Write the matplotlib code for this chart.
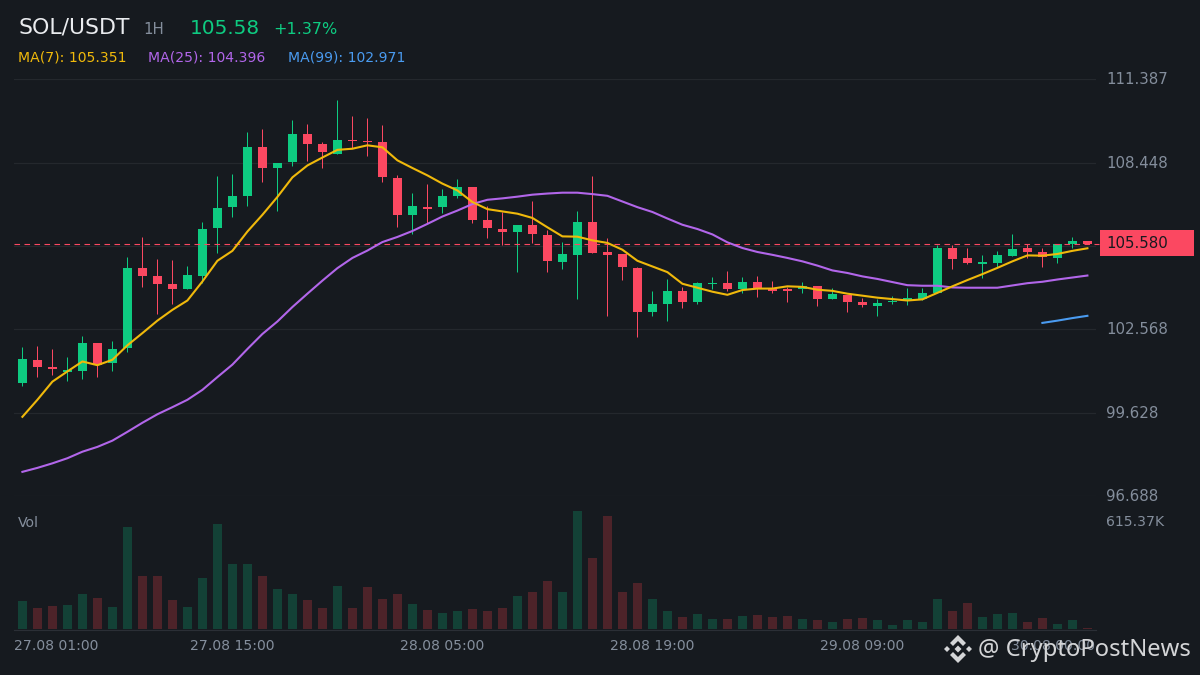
import matplotlib
matplotlib.use("Agg")
import matplotlib.pyplot as plt
from matplotlib.patches import Rectangle, Polygon
from matplotlib.transforms import ScaledTranslation

opens = [100.67,101.50,101.25,101.08,101.12,102.10,101.37,101.90,104.74,104.46,104.18,104.01,104.47,106.13,106.87,107.26,
         109.01,108.25,108.46,109.47,109.12,108.77,109.26,109.22,109.19,107.92,106.59,106.90,106.87,107.26,107.60,106.44,
         106.12,105.99,106.26,105.91,104.93,105.21,106.37,105.31,105.24,104.74,103.17,103.45,103.93,103.52,104.16,104.22,
         103.98,104.25,104.00,103.98,103.99,104.11,103.66,103.79,103.55,103.38,103.52,103.56,103.64,103.86,105.45,105.10,
         104.89,104.92,105.17,105.45,105.31,105.10,105.59,105.70]
closes = [101.54,101.23,101.16,101.15,102.10,101.31,101.89,104.74,104.47,104.16,104.01,104.50,106.12,106.86,107.28,109.01,
          108.25,108.45,109.47,109.09,108.81,109.26,109.20,109.16,107.93,106.59,106.93,106.82,107.28,107.60,106.41,106.13,
          105.99,106.26,105.92,104.97,105.24,106.37,105.28,105.21,104.76,103.20,103.48,103.93,103.52,104.22,104.22,103.98,
          104.25,104.00,103.94,103.91,104.11,103.66,103.83,103.52,103.42,103.51,103.58,103.69,103.86,105.45,105.07,104.92,
          104.96,105.20,105.41,105.31,105.13,105.59,105.70,105.58]
highs = [101.96,102.00,101.89,101.61,102.35,102.10,102.17,105.13,105.84,105.06,105.03,104.82,106.37,107.99,108.06,109.54,
         109.64,108.45,109.96,109.82,109.19,110.67,110.10,110.03,109.79,108.02,107.39,107.71,107.53,107.88,107.60,106.93,
         106.72,106.26,107.11,106.08,105.66,106.75,107.99,105.80,105.24,104.78,103.93,104.36,104.07,104.25,104.43,104.64,
         104.43,104.46,104.29,104.07,104.25,104.11,104.04,103.79,103.69,103.66,103.76,104.04,104.04,105.56,105.56,105.45,
         105.20,105.34,105.94,105.59,105.45,105.59,105.84,105.70]
lows = [100.56,100.91,100.95,100.74,100.81,100.91,101.09,101.79,104.05,103.13,103.45,103.98,104.19,105.25,106.55,106.91,
        107.75,106.73,108.32,108.49,108.25,108.77,108.95,108.70,107.75,106.19,105.92,106.32,106.69,107.22,106.31,105.81,
        105.56,104.58,105.60,104.61,104.69,103.66,105.25,103.06,104.33,102.32,103.06,102.85,103.31,103.45,104.00,103.91,
        103.84,103.70,103.87,103.52,103.87,103.38,103.63,103.17,103.35,103.06,103.48,103.42,103.59,103.86,104.69,104.89,
        104.40,104.76,105.17,105.10,104.78,104.92,105.45,105.58]
volumes = [146,109.5,120,125,182.5,162,115,532,276,276,151,115,266,547.5,339,339,276,208.5,182.5,151,109.5,224,109.5,219,
           156,182.5,130,99,83,94,104,94,109.5,172,193,250,193,615.37,370,589,193,240,156,94,63,78,52,52,
           68,73,63,68,52,47,36.5,52,57,47,21,47,36.5,156,94,136,63,78,83,36.5,57,26,47,5]
ma7 = [99.49,100.09,100.73,101.09,101.44,101.31,101.50,102.01,102.44,102.88,103.26,103.59,104.26,104.99,105.34,106.02,
       106.61,107.24,107.93,108.35,108.63,108.90,108.94,109.06,108.99,108.53,108.26,108.00,107.71,107.47,107.06,106.81,
       106.73,106.65,106.50,106.17,105.85,105.84,105.71,105.62,105.38,104.99,104.79,104.59,104.18,104.04,103.90,103.79,
       103.96,104.01,104.01,104.09,104.07,103.97,103.93,103.83,103.76,103.69,103.64,103.59,103.63,103.86,104.09,104.31,
       104.52,104.74,104.97,105.18,105.17,105.23,105.34,105.43]
ma25 = [97.55,97.69,97.85,98.03,98.26,98.43,98.65,98.96,99.28,99.58,99.83,100.09,100.44,100.89,101.33,101.88,
        102.41,102.85,103.36,103.83,104.29,104.73,105.09,105.35,105.65,105.83,106.04,106.29,106.55,106.76,106.99,107.14,
        107.19,107.25,107.32,107.36,107.39,107.39,107.34,107.28,107.08,106.88,106.71,106.48,106.26,106.11,105.92,105.64,
        105.44,105.30,105.20,105.09,104.97,104.82,104.65,104.56,104.44,104.35,104.24,104.13,104.11,104.11,104.05,104.04,
        104.04,104.04,104.12,104.20,104.25,104.33,104.40,104.47]
ma99_start = 68
ma99 = [102.80,102.88,102.97,103.05]

price_ticks = [96.688, 99.628, 102.568, 105.508, 108.448, 111.387]
price_tick_labels = ["96.688", "99.628", "102.568", "", "108.448", "111.387"]
last_price = 105.58
x_ticks = [0, 14, 28, 42, 56, 71]
x_tick_labels = ["27.08 01:00", "27.08 15:00", "28.08 05:00", "28.08 19:00", "29.08 09:00", "30.08 00:00"]

BG = "#161a1f"; GREEN = "#0ecb81"; RED = "#fb4861"; GREY = "#848e9c"; GRID = "#24282d"
VGREEN = "#134136"; VRED = "#4d2329"
W, H = 1200, 675
plt.rcParams["font.family"] = ["DejaVu Sans"]
fig = plt.figure(figsize=(12, 6.75), dpi=100, facecolor=BG)

def box(l, t, r, b):
    return [l / W, 1 - b / H, (r - l) / W, (b - t) / H]

xlim = ((14 - 22.4) / 15, (1096 - 22.4) / 15)
ax = fig.add_axes(box(14, 79.3, 1096, 496.3), facecolor=BG)
vax = fig.add_axes(box(14, 505, 1096, 630), facecolor="none", sharex=ax)

n = len(opens)
xs = list(range(n))
colors = [GREEN if c >= o else RED for o, c in zip(opens, closes)]
wicks = ax.vlines(xs, lows, highs, colors=colors, linewidth=0.72, zorder=3)
wicks.set_snap(True)
ax.bar(xs, [abs(c - o) for o, c in zip(opens, closes)], bottom=[min(o, c) for o, c in zip(opens, closes)],
       width=0.6, color=colors, linewidth=0, zorder=3)
ax.axhline(last_price, xmax=1.003, color=RED, linewidth=0.8, linestyle=(0, (5, 4)), zorder=4, clip_on=False)
ax.plot(xs, ma25, color="#b266ea", linewidth=1.5, zorder=5)
ax.plot(xs, ma7, color="#f0b90b", linewidth=1.5, zorder=6)
ax.plot(list(range(ma99_start, ma99_start + len(ma99))), ma99, color="#4a9bf0", linewidth=1.5, zorder=5)

ax.set_xlim(*xlim)
ax.set_ylim(96.688, 111.387)
ax.yaxis.tick_right()
ax.set_yticks(price_ticks)
ax.set_yticklabels(price_tick_labels)
ax.tick_params(axis="y", length=0, pad=7.5, labelsize=10.8, labelcolor=GREY)
ax.tick_params(axis="x", length=0, labelbottom=False)
ax.grid(axis="y", color=GRID, linewidth=0.9, zorder=0)
ax.set_axisbelow(True)
for s in ax.spines.values():
    s.set_visible(False)
for lbl in ax.get_yticklabels():
    lbl.set_transform(lbl.get_transform() + ScaledTranslation(0, 1 / 100, fig.dpi_scale_trans))

vcolors = [VGREEN if c == GREEN else VRED for c in colors]
vax.bar(xs, volumes, width=0.6, color=vcolors, linewidth=0)
vax.set_ylim(-5.2, 646.7)
vax.set_yticks([max(volumes)])
vax.set_yticklabels(["615.37K"])
vax.yaxis.tick_right()
vax.tick_params(axis="y", length=0, pad=7.5, labelsize=10.1, labelcolor=GREY)
for lbl in vax.get_yticklabels():
    lbl.set_va("top")
    lbl.set_transform(lbl.get_transform() + ScaledTranslation(0, -3.5 / 100, fig.dpi_scale_trans))
vax.set_xticks(x_ticks)
vax.set_xticklabels(x_tick_labels)
vax.tick_params(axis="x", length=0, pad=6.5, labelsize=10.1, labelcolor=GREY)
for s in ("top", "left", "right"):
    vax.spines[s].set_visible(False)
vax.spines["bottom"].set_color("#2b2f36")
vax.spines["bottom"].set_linewidth(0.8)
labels = vax.get_xticklabels()
labels[0].set_ha("left")
labels[0].set_transform(labels[0].get_transform() + ScaledTranslation(-8.3 / 100, 0, fig.dpi_scale_trans))
labels[-1].set_ha("right")
labels[-1].set_transform(labels[-1].get_transform() + ScaledTranslation(8 / 100, 0, fig.dpi_scale_trans))

def txt(x, y, s, color, px, **kw):
    return fig.text(x / W, 1 - y / H, s, color=color, fontsize=px * 0.72, va="center", **kw)

txt(18, 27.5, "SOL/USDT", "#eaecef", 22)
txt(143, 30, "1H", GREY, 15)
txt(190, 28, "105.58", GREEN, 20)
txt(273, 29.5, "+1.37%", GREEN, 16)
txt(18, 57.3, "MA(7): 105.351", "#f0b90b", 14)
txt(148.5, 57.3, "MA(25): 104.396", "#b266ea", 14)
txt(288.5, 57.3, "MA(99): 102.971", "#4a9bf0", 14)
txt(18, 523, "Vol", GREY, 14)

fig.add_artist(Rectangle((1100 / W, 1 - 256 / H), 94 / W, 26 / H, transform=fig.transFigure,
                         facecolor=RED, edgecolor="none", zorder=8))
fig.text(1106.5 / W, 1 - 244 / H, "105.580", color=BG, fontsize=10.8, va="center", zorder=9)

# watermark
wm = "#d4d5d7"
cx, cy = 958, 649
def poly(pts):
    fig.add_artist(Polygon([((cx + a) / W, 1 - (cy + b) / H) for a, b in pts], closed=True,
                           transform=fig.transFigure, facecolor=wm, edgecolor="none", zorder=10))
poly([(-3.5, 0), (0, -3.5), (3.5, 0), (0, 3.5)])
poly([(-14, 0), (-11, -3), (-8, 0), (-11, 3)])
poly([(14, 0), (11, -3), (8, 0), (11, 3)])
poly([(0, -14), (8, -6), (5, -3), (0, -8), (-5, -3), (-8, -6)])
poly([(0, 14), (8, 6), (5, 3), (0, 8), (-5, 3), (-8, 6)])
fig.text(978 / W, 1 - 649.5 / H, "@ CryptoPostNews", color=wm, fontsize=17.15, va="center",
         family="Noto Sans", zorder=10)

fig.savefig("out.png", dpi=100, facecolor=BG)
